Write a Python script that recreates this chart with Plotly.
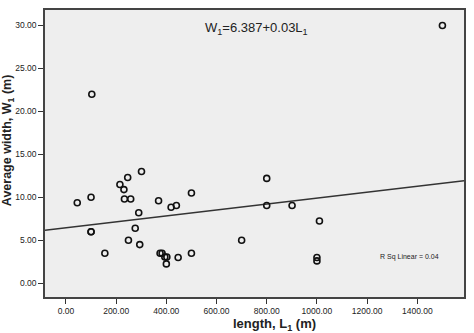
import plotly.graph_objects as go

# Data
length_m = [45, 100, 100, 100, 155, 215, 231, 233, 246, 249, 258, 276, 290, 294, 301,
            369, 375, 383, 394, 400, 402, 419, 440, 447, 500, 500, 700, 800, 800, 901,
            1000, 1000, 1010, 1500, 103]
width_m = [9.37, 10.0, 6.0, 6.0, 3.5, 11.5, 10.9, 9.8, 12.3, 5.0, 9.8, 6.4, 8.2, 4.5, 13.0,
           9.6, 3.5, 3.5, 3.05, 2.25, 3.05, 8.85, 9.05, 3.0, 10.5, 3.5, 5.0, 12.2, 9.05, 9.05,
           3.0, 2.6, 7.25, 30.0, 22.0]
fit_intercept = 6.45
fit_slope = 0.00345
x_range = [-83.5, 1586]
y_range = [-1.6, 31.8]
x_ticks = [0, 200, 400, 600, 800, 1000, 1200, 1400]
y_ticks = [0, 5, 10, 15, 20, 25, 30]

fig = go.Figure()
fig.add_trace(go.Scatter(
    x=x_range, y=[fit_intercept + fit_slope * v for v in x_range],
    mode="lines", line=dict(color="#333333", width=1.4), hoverinfo="skip"))
fig.add_trace(go.Scatter(
    x=length_m, y=width_m, mode="markers",
    marker=dict(symbol="circle-open", size=6, color="#111111", line=dict(width=1.6))))

font_family = "Liberation Sans, Arial"
tickfont = dict(family=font_family, size=8.5, color="#222222")
pl, pr, pt, pb = 45, 474 - 9, 8, 333 - 36


def px_ann(text, x, y, size, angle=0):
    return dict(text=text, xref="paper", yref="paper",
                x=(x - pl) / (pr - pl), y=(pb - y) / (pb - pt),
                xanchor="center", yanchor="middle", showarrow=False, textangle=angle,
                font=dict(family=font_family, size=size, color="#222"))


fig.update_layout(
    width=474, height=333, showlegend=False,
    margin=dict(l=45, r=9, t=8, b=36),
    paper_bgcolor="white", plot_bgcolor="#eeeeee",
    xaxis=dict(range=x_range, tickvals=x_ticks, ticktext=[f"{v:.2f}" for v in x_ticks],
               showgrid=False, zeroline=False, ticks="outside", ticklen=5, tickcolor="#333",
               showline=True, linecolor="#444", linewidth=1.5, mirror=True, tickfont=tickfont),
    yaxis=dict(range=y_range, tickvals=y_ticks, ticktext=[f"{v:.2f}" for v in y_ticks],
               showgrid=False, zeroline=False, ticks="outside", ticklen=5, tickcolor="#333",
               showline=True, linecolor="#444", linewidth=1.5, mirror=True, tickfont=tickfont),
    annotations=[
        px_ann("W<sub>1</sub>=6.387+0.03L<sub>1</sub>", 257, 27, 13),
        px_ann("R Sq Linear = 0.04", 410, 257, 7),
        px_ann("<b>length, L<sub>1</sub> (m)</b>", 275, 325, 13),
        px_ann("<b>Average width, W<sub>1</sub> (m)</b>", 8, 139, 12.5, -90),
    ],
)
fig.write_html("out.html")
